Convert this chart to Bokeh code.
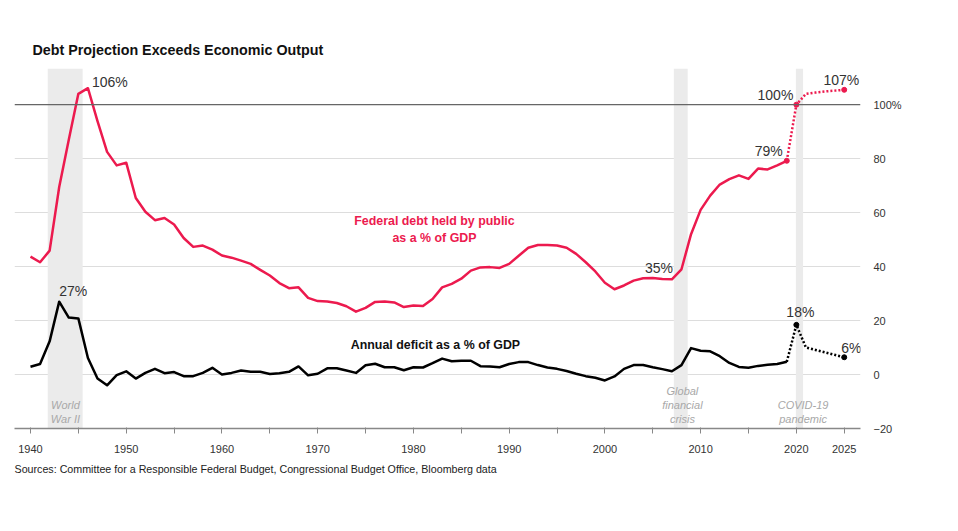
from bokeh.plotting import figure
from bokeh.models import FixedTicker, BoxAnnotation, Span, Title, Label
from bokeh.core.properties import value
from bokeh.embed import file_html
from bokeh.resources import INLINE

# ---------------- data ----------------
years_hist = list(range(1940, 2020))
debt_hist = (
    [43.7, 41.6, 45.9, 69.5, 87.0, 104.0, 106.1, 93.9, 82.5, 77.5]      # 1940s
    + [78.5, 65.4, 60.3, 57.2, 58.0, 55.6, 50.6, 47.3, 47.8, 46.3]    # 1950s
    + [44.1, 43.3, 42.2, 41.0, 38.8, 36.7, 33.9, 32.0, 32.3, 28.4]    # 1960s
    + [27.2, 27.1, 26.5, 25.3, 23.3, 24.7, 26.9, 27.1, 26.7, 25.0]    # 1970s
    + [25.6, 25.4, 28.0, 32.3, 33.6, 35.5, 38.5, 39.7, 39.8, 39.5]    # 1980s
    + [41.0, 44.0, 47.0, 48.0, 48.0, 47.8, 47.0, 44.7, 41.6, 38.2]    # 1990s
    + [34.0, 31.6, 33.0, 34.8, 35.7, 35.8, 35.4, 35.3, 39.0, 52.0]    # 2000s
    + [61.0, 66.3, 70.4, 72.4, 73.8, 72.5, 76.3, 76.0, 77.5, 79.2]    # 2010s
)
deficit_hist = (
    [2.9, 3.9, 12.3, 27.0, 21.1, 20.8, 6.1, -1.5, -4.0, -0.2]
    + [1.2, -1.5, 0.6, 2.1, 0.5, 0.9, -0.6, -0.6, 0.6, 2.5]
    + [0.0, 0.6, 1.5, 1.0, 1.0, 0.2, 0.5, 1.0, 3.0, -0.3]
    + [0.3, 2.3, 2.3, 1.5, 0.6, 3.4, 4.0, 2.7, 2.7, 1.6]
    + [2.7, 2.6, 4.2, 5.9, 4.9, 5.1, 5.1, 3.1, 3.0, 2.7]
    + [3.9, 4.6, 4.6, 3.5, 2.6, 2.1, 1.3, 0.3, -0.6, -1.2]
    + [-2.2, -0.7, 2.1, 3.5, 3.5, 2.7, 2.0, 1.2, 3.5, 9.8]
    + [8.8, 8.6, 6.8, 4.3, 2.8, 2.5, 3.2, 3.6, 3.9, 4.7]
)
years_proj = [2019, 2020, 2021, 2022, 2023, 2024, 2025]
debt_proj = [79.2, 100.0, 104.0, 104.5, 104.9, 105.2, 105.5]
deficit_proj = [4.7, 18.4, 10.0, 9.1, 8.2, 7.3, 6.4]

dot_years_debt = [2019, 2020, 2025]
dot_years_def = [2020, 2025]

event_names = ["World\nWar II", "Global\nfinancial\ncrisis", "COVID-19\npandemic"]
event_start = [1941.8, 2007.2, 2019.95]
event_end = [1945.45, 2008.65, 2020.7]
event_label_x = [1943.65, 2008.1, 2020.7]

x_ticks = list(range(1940, 2030, 5))
x_labelled = [1940, 1950, 1960, 1970, 1980, 1990, 2000, 2010, 2020, 2025]
y_ticks = [-20, 0, 20, 40, 60, 80, 100]

RED = "#ec1a4e"
INK = "#222222"
FONT = "Liberation Sans"

# ---------------- figure ----------------
p = figure(width=940, height=480, x_range=(1938.33, 2026.7), y_range=(-20, 113.4),
           output_backend="svg", toolbar_location=None, y_axis_location="right",
           min_border_left=14, min_border_right=80, min_border_top=68, min_border_bottom=50)
p.outline_line_color = None
p.background_fill_color = "white"

# title
p.title.text = "Debt Projection Exceeds Economic Output"
p.title.text_font = FONT
p.title.text_font_size = "14.3px"
p.title.text_font_style = "bold"
p.title.text_color = "#111111"
p.title.align = "left"
p.title.offset = 18
p.title.standoff = 22

src = Title(text="Sources: Committee for a Responsible Federal Budget, Congressional Budget Office, Bloomberg data",
            text_font=FONT, text_font_size="10.7px", text_font_style="normal",
            text_color=INK, align="left", offset=0, standoff=11)
p.add_layout(src, "below")

# event shading
for s, e in zip(event_start, event_end):
    p.add_layout(BoxAnnotation(left=s, right=e, fill_color="#ebebeb", fill_alpha=1.0,
                               line_color=None, level="underlay"))

# grid
p.xgrid.grid_line_color = None
p.ygrid.ticker = FixedTicker(ticks=[0, 20, 40, 60, 80])
p.ygrid.grid_line_color = "#dddddd"
p.ygrid.grid_line_width = 1.2
p.add_layout(Span(location=100, dimension="width", line_color="#666666", line_width=1.2))

# x axis
xa = p.xaxis[0]
xa.ticker = FixedTicker(ticks=x_ticks)
xa.major_label_overrides = {t: "" for t in x_ticks if t not in x_labelled}
xa.axis_line_color = "#888888"
xa.axis_line_width = 1.5
xa.major_tick_line_color = "#888888"
xa.major_tick_out = 5
xa.major_tick_in = 1
xa.minor_tick_line_color = None
xa.major_label_text_font = FONT
xa.major_label_text_font_size = "11px"
xa.major_label_text_color = "#333333"
xa.major_label_standoff = 11

# right axis
ya = p.yaxis[0]
ya.ticker = FixedTicker(ticks=y_ticks)
ya.major_label_overrides = {100: "100%"}
ya.axis_line_color = None
ya.major_tick_line_color = None
ya.minor_tick_line_color = None
ya.major_label_text_font = FONT
ya.major_label_text_font_size = "11px"
ya.major_label_text_color = "#333333"
ya.major_label_standoff = 7

# lines
p.line(years_hist, debt_hist, line_color=RED, line_width=2.5, line_join="round")
p.line(years_proj, debt_proj, line_color=RED, line_width=2.5, line_dash="2 2")
p.line(years_hist, deficit_hist, line_color="black", line_width=2.5, line_join="round")
p.line(years_proj, deficit_proj, line_color="black", line_width=2.5, line_dash="2 2")


def lookup(years, vals, y):
    return vals[years.index(y)]


p.scatter(dot_years_debt, [lookup(years_proj, debt_proj, y) for y in dot_years_debt],
          size=5, color=RED)
p.scatter(dot_years_def, [lookup(years_proj, deficit_proj, y) for y in dot_years_def],
          size=5, color="black")

# value annotations anchored at data points (kept inside the plot frame)
ann_text = ["106%", "27%", "35%", "79%", "100%", "107%", "18%", "6%"]
ann_year = [1946, 1943, 2007, 2019, 2020, 2025, 2020, 2025]
ann_val = [lookup(years_hist, debt_hist, 1946), lookup(years_hist, deficit_hist, 1943),
           lookup(years_hist, debt_hist, 2007), lookup(years_proj, debt_proj, 2019),
           lookup(years_proj, debt_proj, 2020), lookup(years_proj, debt_proj, 2025),
           lookup(years_proj, deficit_proj, 2020), lookup(years_proj, deficit_proj, 2025)]
ann_align = ["left", "left", "right", "right", "right", "right", "center", "left"]
ann_dx = [4, 0, 1, -4, -3, 15, 4, -3]
ann_up = [6, 11, 11, 10, 10, 10, 13, 9]
for t, xv, yv, a, dx, up in zip(ann_text, ann_year, ann_val, ann_align, ann_dx, ann_up):
    p.add_layout(Label(x=xv, y=yv, text=t, text_align=a, text_baseline="middle",
                       x_offset=dx, y_offset=up, text_font=FONT, text_font_size="14px",
                       text_color="#333333"))

# series labels
p.text(x=[1982.2], y=[53.8], text=["Federal debt held by public\nas a % of GDP"],
       text_align="center", text_baseline="middle", text_font=value(FONT),
       text_font_size="12.4px", text_font_style="bold", text_color=RED, text_line_height=1.25)
p.text(x=[1982.3], y=[11.1], text=["Annual deficit as a % of GDP"],
       text_align="center", text_baseline="middle", text_font=value(FONT),
       text_font_size="12.4px", text_font_style="bold", text_color="#111111")

# event labels
p.text(x=event_label_x, y=[-20] * 3, text=event_names, y_offset=[-3] * 3,
       text_align="center", text_baseline="bottom", text_font=value(FONT),
       text_font_size="11px", text_font_style="italic", text_color="#a8a8a8",
       text_line_height=1.2)

open("out.html", "w").write(file_html(p, INLINE))
